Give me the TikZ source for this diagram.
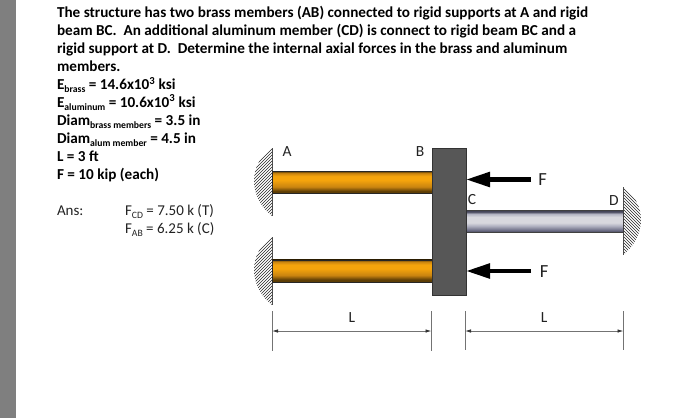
\documentclass[tikz,border=0pt]{standalone}
\usepackage{fontspec}
\setmainfont{Carlito}
\usetikzlibrary{arrows.meta}
\definecolor{brassdark}{HTML}{5E3E05}
\definecolor{brassmid}{HTML}{C98410}
\definecolor{brasslight}{HTML}{F5A40C}
\definecolor{alumdark}{HTML}{45465A}
\definecolor{alumslate}{HTML}{74758C}
\definecolor{alummid}{HTML}{B2B3C2}
\definecolor{alumlight}{HTML}{D8D8DE}
\definecolor{beamgray}{HTML}{575757}
\definecolor{bandgray}{HTML}{7F7F7F}
\definecolor{inkgray}{HTML}{222222}
\pgfdeclareverticalshading{brassbar}{100bp}{
 color(0bp)=(brassdark!80!black); color(30bp)=(brassdark); color(40bp)=(brassmid); color(55bp)=(brasslight); color(64bp)=(brasslight); color(71bp)=(brassmid); color(75bp)=(brassdark); color(100bp)=(brassdark)}
\pgfdeclareverticalshading{alumbar}{100bp}{
 color(0bp)=(alumdark); color(25bp)=(alumdark); color(31bp)=(alumslate); color(40bp)=(alummid); color(47bp)=(alumlight); color(60bp)=(alumlight); color(67bp)=(alummid); color(72bp)=(alumdark); color(100bp)=(alumdark)}
\newcommand{\subtxt}[1]{\raisebox{-3pt}{\fontsize{9.7}{10}\selectfont #1}}
\tikzset{
 x=1pt,y=-1pt,
 txt/.style={anchor=base west,inner sep=0pt,outer sep=0pt,font=\fontsize{15.2}{17}\selectfont\bfseries,text=black},
 ans/.style={anchor=base west,inner sep=0pt,outer sep=0pt,font=\fontsize{15}{17}\selectfont,text=inkgray},
 lab/.style={inner sep=0pt,font=\fontsize{15.5}{17}\selectfont,text=inkgray},
 flab/.style={inner sep=0pt,font=\fontsize{18.5}{21}\selectfont,text=inkgray},
 barbrass/.style={draw=black!85,line width=0.7pt,shading=brassbar,minimum width=160pt,minimum height=22pt,inner sep=0pt,anchor=north west},
 baralum/.style={draw=black!75,line width=0.7pt,shading=alumbar,minimum width=158pt,minimum height=22pt,inner sep=0pt,anchor=north west},
 beam/.style={draw=black!80,line width=0.6pt,fill=beamgray,minimum width=34pt,minimum height=147pt,inner sep=0pt,anchor=north west},
 extline/.style={draw=black!55,line width=0.8pt},
 dimline/.style={draw=black!55,line width=0.8pt,{Latex[length=6pt,width=3.5pt,black!80]}-{Latex[length=6pt,width=3.5pt,black!80]}},
 force/.style={draw=black,line width=4.2pt,-{Triangle[length=24pt,width=14.5pt]}},
 hatchline/.style={draw=black!85,line width=0.6pt},
}
\newcommand{\wallL}[2]{% x, top y
 \begin{scope}
 \clip (#1,#2) .. controls (#1-24,#2+16) and (#1-24,#2+49) .. (#1,#2+68) -- cycle;
 \foreach \k in {-2,...,27}{\draw[hatchline] (#1+1,#2+\k*3) -- (#1-22,#2+\k*3+23);}
 \end{scope}
 \draw[black!70,line width=0.6pt] (#1,#2) -- (#1,#2+68);
}
\newcommand{\wallR}[2]{%
 \begin{scope}
 \clip (#1,#2) .. controls (#1+24,#2+16) and (#1+24,#2+49) .. (#1,#2+68) -- cycle;
 \foreach \k in {-10,...,25}{\draw[hatchline] (#1-1,#2+\k*3) -- (#1+22,#2+\k*3+23);}
 \end{scope}
 \draw[black!70,line width=0.6pt] (#1,#2) -- (#1,#2+68);
}
\begin{document}
\begin{tikzpicture}
\useasboundingbox (0,0) rectangle (700,418);
\fill[bandgray] (0,0) rectangle (15.5,418);
% text
\node[txt] (t1) at (57,17.7) {The structure has two brass members (AB) connected to rigid supports at A and rigid};
\node[txt] (t2) at (57,35.6) {beam BC.\ \ An additional aluminum member (CD) is connect to rigid beam BC and a};
\node[txt] (t3) at (57,53.6) {rigid support at D.\ \ Determine the internal axial forces in the brass and aluminum};
\node[txt] (t4) at (57,71.6) {members.};
\node[txt] (t5) at (57,89.3) {E\subtxt{brass} = 14.6x10\textsuperscript{3} ksi};
\node[txt] (t6) at (57,107) {E\subtxt{aluminum} = 10.6x10\textsuperscript{3} ksi};
\node[txt] (t7) at (57,125) {Diam\subtxt{brass members} = 3.5 in};
\node[txt] (t8) at (57,143) {Diam\subtxt{alum member} = 4.5 in};
\node[txt] (t9) at (57,161) {L = 3 ft};
\node[txt] (t10) at (57,179.3) {F = 10 kip (each)};
\node[ans] (a0) at (57,215.3) {Ans:};
\node[ans] (a1) at (125,215.3) {F\subtxt{CD} = 7.50 k (T)};
\node[ans] (a2) at (125,233) {F\subtxt{AB} = 6.25 k (C)};
% walls
\wallL{272}{148}
\wallL{272}{237}
\wallR{623}{187}
% members
\node[barbrass] (ab1) at (272,171) {};
\node[barbrass] (ab2) at (272,259.5) {};
\node[baralum] (cd) at (465,210) {};
\node[beam] (bc) at (431.5,148) {};
% labels
\node[lab] (la) at (287,152) {A};
\node[lab] (lb) at (420,152) {B};
\node[lab] (lc) at (472,200) {C};
\node[lab] (ld) at (614,201) {D};
% forces
\coordinate (f1s) at (531,179.5);
\coordinate (f2s) at (531,271);
\draw[force] (f1s) -- (f1s -| bc.east);
\draw[force] (f2s) -- (f2s -| bc.east);
\node[flab] (f1) at (542.5,179.5) {F};
\node[flab] (f2) at (544,271.5) {F};
% dimensions
\coordinate (d1t) at (272,311); \coordinate (d1b) at (272,351);
\coordinate (d2t) at (431.5,311); \coordinate (d2b) at (431.5,351);
\coordinate (d3t) at (465,311); \coordinate (d3b) at (465,350);
\coordinate (d4t) at (623.5,311); \coordinate (d4b) at (623.5,350);
\draw[extline] (d1t) -- (d1b);
\draw[extline] (d2t) -- (d2b);
\draw[extline] (d3t) -- (d3b);
\draw[extline] (d4t) -- (d4b);
\coordinate (m1) at (272,331); \coordinate (m2) at (431.5,331);
\coordinate (m3) at (465,331); \coordinate (m4) at (623.5,331);
\draw[dimline] (m1) -- (m2);
\draw[dimline] (m3) -- (m4);
\node[lab] (l1) at (352,318) {L};
\node[lab] (l2) at (544,318) {L};
\end{tikzpicture}
\end{document}
